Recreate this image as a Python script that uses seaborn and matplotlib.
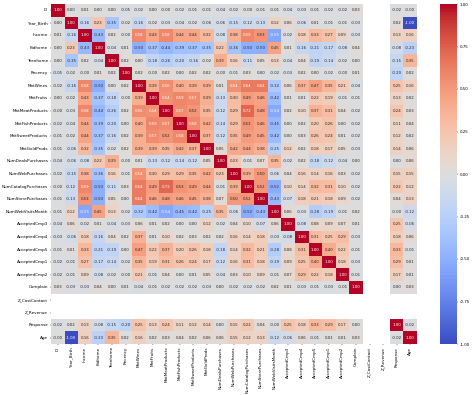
import numpy as np
import pandas as pd
import matplotlib
matplotlib.use("Agg")
import matplotlib.pyplot as plt
import seaborn as sns

labels = ["ID", "Year_Birth", "Income", "Kidhome", "Teenhome", "Recency", "MntWines", "MntFruits",
          "MntMeatProducts", "MntFishProducts", "MntSweetProducts", "MntGoldProds",
          "NumDealsPurchases", "NumWebPurchases", "NumCatalogPurchases", "NumStorePurchases",
          "NumWebVisitsMonth", "AcceptedCmp3", "AcceptedCmp4", "AcceptedCmp5", "AcceptedCmp1",
          "AcceptedCmp2", "Complain", "Z_CostContact", "Z_Revenue", "Response", "Age"]
n = np.nan
# Upper triangle of the correlation matrix, one list per row, starting at the diagonal
r_id = [1, 0.00, 0.01, 0.00, 0.00, -0.05, -0.02, 0.00, -0.00, -0.02, -0.01, -0.01, -0.04, -0.02, -0.00, -0.01, -0.01, -0.04, -0.03, -0.01, -0.02, -0.02, 0.03, n, n, -0.02, -0.00]
r_year = [1, -0.16, 0.23, -0.35, -0.02, -0.16, -0.02, -0.03, -0.04, -0.02, -0.06, -0.06, -0.15, -0.12, -0.13, 0.12, 0.06, -0.06, 0.01, -0.01, -0.01, -0.03, n, n, 0.02, -1.00]
r_income = [1, -0.43, 0.02, -0.00, 0.58, 0.43, 0.58, 0.44, 0.44, 0.32, -0.08, 0.38, 0.59, 0.53, -0.55, -0.02, 0.18, 0.33, 0.27, 0.09, -0.03, n, n, 0.13, 0.16]
r_kid = [1, -0.04, 0.01, -0.50, -0.37, -0.44, -0.39, -0.37, -0.35, 0.22, -0.36, -0.50, -0.50, 0.45, 0.01, -0.16, -0.21, -0.17, -0.08, 0.04, n, n, -0.08, -0.23]
r_teen = [1, 0.02, 0.00, -0.18, -0.26, -0.20, -0.16, -0.02, 0.39, 0.16, -0.11, 0.05, 0.13, -0.04, 0.04, -0.19, -0.14, -0.02, 0.00, n, n, -0.15, 0.35]
r_recency = [1, 0.02, -0.00, 0.02, 0.00, 0.02, 0.02, -0.00, -0.01, 0.03, 0.00, -0.02, -0.03, 0.02, 0.00, -0.02, -0.00, 0.01, n, n, -0.20, 0.02]
r_wines = [1, 0.39, 0.56, 0.40, 0.39, 0.39, 0.01, 0.54, 0.64, 0.64, -0.32, 0.06, 0.37, 0.47, 0.35, 0.21, -0.04, n, n, 0.25, 0.16]
r_fruits = [1, 0.54, 0.59, 0.57, 0.39, -0.13, 0.30, 0.49, 0.46, -0.42, 0.01, 0.01, 0.22, 0.19, -0.01, -0.01, n, n, 0.13, 0.02]
r_meat = [1, 0.57, 0.52, 0.35, -0.12, 0.29, 0.72, 0.48, -0.54, 0.02, 0.10, 0.37, 0.31, 0.04, -0.02, n, n, 0.24, 0.03]
r_fish = [1, 0.58, 0.42, -0.14, 0.29, 0.53, 0.46, -0.45, 0.00, 0.02, 0.20, 0.26, 0.00, -0.02, n, n, 0.11, 0.04]
r_sweet = [1, 0.37, -0.12, 0.35, 0.49, 0.45, -0.42, 0.00, 0.03, 0.26, 0.24, 0.01, -0.02, n, n, 0.12, 0.02]
r_gold = [1, 0.05, 0.42, 0.44, 0.38, -0.25, 0.12, 0.02, 0.18, 0.17, 0.05, -0.03, n, n, 0.14, 0.06]
r_deals = [1, 0.23, -0.01, 0.07, 0.35, -0.02, 0.02, -0.18, -0.12, -0.04, 0.00, n, n, 0.00, 0.06]
r_web = [1, 0.39, 0.50, -0.06, 0.04, 0.16, 0.14, 0.16, 0.03, -0.02, n, n, 0.15, 0.15]
r_catalog = [1, 0.52, -0.52, 0.10, 0.14, 0.32, 0.31, 0.10, -0.02, n, n, 0.22, 0.12]
r_store = [1, -0.43, -0.07, 0.18, 0.21, 0.18, 0.09, -0.02, n, n, 0.04, 0.13]
r_visits = [1, 0.06, -0.03, -0.28, -0.19, -0.01, 0.02, n, n, -0.00, -0.12]
r_cmp3 = [1, -0.08, 0.08, 0.09, 0.07, 0.01, n, n, 0.25, -0.06]
r_cmp4 = [1, 0.31, 0.25, 0.29, -0.03, n, n, 0.18, 0.06]
r_cmp5 = [1, 0.40, 0.22, -0.01, n, n, 0.33, -0.01]
r_cmp1 = [1, 0.18, -0.03, n, n, 0.29, 0.01]
r_cmp2 = [1, -0.01, n, n, 0.17, 0.01]
r_complain = [1, n, n, 0.00, 0.03]
r_cost = [n, n, n, n]
r_rev = [n, n, n]
r_resp = [1, -0.02]
r_age = [1]

rows = [r_id, r_year, r_income, r_kid, r_teen, r_recency, r_wines, r_fruits, r_meat, r_fish,
        r_sweet, r_gold, r_deals, r_web, r_catalog, r_store, r_visits, r_cmp3, r_cmp4, r_cmp5,
        r_cmp1, r_cmp2, r_complain, r_cost, r_rev, r_resp, r_age]

size = len(labels)
matrix = np.full((size, size), np.nan)
for i, row in enumerate(rows):
    matrix[i, i:] = row
    matrix[i:, i] = row
corr = pd.DataFrame(matrix, index=labels, columns=labels)

W, H = 474, 395
fig = plt.figure(figsize=(W / 100, H / 100), dpi=100)
ax = fig.add_axes([51 / W, 1 - 344 / H, 366 / W, 340 / H])
cax = fig.add_axes([440 / W, 1 - 344 / H, 17 / W, 340 / H])

sns.heatmap(corr, annot=True, fmt=".2f", cmap="coolwarm", vmin=-1, vmax=1, ax=ax, cbar_ax=cax,
            xticklabels=labels, yticklabels=labels,
            annot_kws={"size": 2.8}, cbar_kws={"format": "%.2f"})

ax.tick_params(axis="both", labelsize=3.0, length=1.0, width=0.3, pad=1.0)
ax.tick_params(axis="x", labelrotation=90)
ax.tick_params(axis="y", labelrotation=0)
cax.set_yticks(np.arange(-1, 1.01, 0.25))
cax.tick_params(labelsize=2.9, length=1.0, width=0.3, pad=1.0)
for s in cax.spines.values():
    s.set_visible(False)

fig.savefig("out.png", dpi=100)
